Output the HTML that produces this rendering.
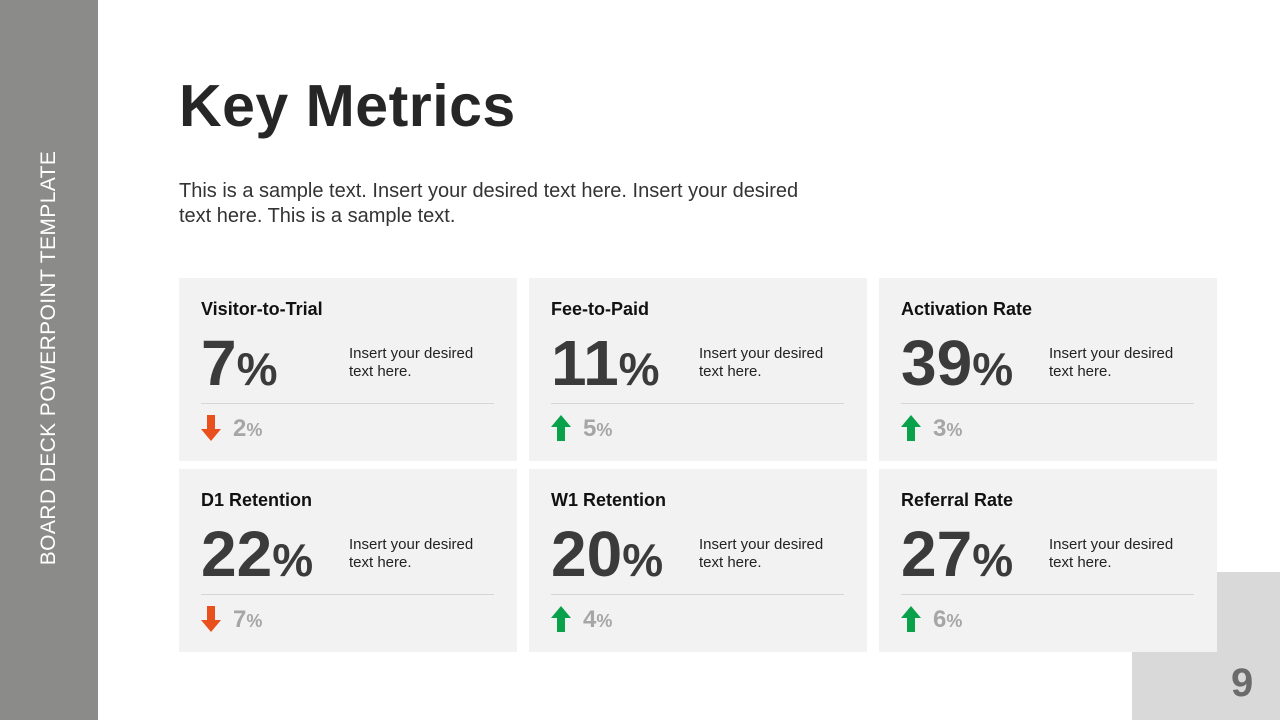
<!DOCTYPE html>
<html><head><style>
*{margin:0;padding:0;box-sizing:border-box}
body{width:1280px;height:720px;position:relative;background:#fff;font-family:"Liberation Sans",sans-serif;overflow:hidden}
.side{position:absolute;left:0;top:0;width:98px;height:720px;background:#8b8c8a}
.side span{position:absolute;left:49px;top:358px;transform:translate(-50%,-50%) rotate(-90deg);white-space:nowrap;color:#fff;font-size:21px;letter-spacing:0.4px}
h1{position:absolute;left:179px;top:72px;font-size:59px;font-weight:bold;color:#262626;letter-spacing:0.5px}
.intro{position:absolute;left:179px;top:179px;width:655px;font-size:20px;line-height:25px;color:#333}
.g1{position:absolute;left:1217px;top:572px;width:63px;height:148px;background:#d9d9d9}
.g2{position:absolute;left:1132px;top:652px;width:148px;height:68px;background:#d9d9d9}
.pg{position:absolute;left:1231px;top:661px;font-size:40px;font-weight:bold;color:#6b6b6b}
.card{position:absolute;width:338px;height:183px;background:#f2f2f2}
.t{position:absolute;left:22px;top:21px;font-size:18px;font-weight:bold;color:#111}
.n{position:absolute;left:22px;top:48px;font-size:64px;font-weight:bold;color:#3b3b3b;letter-spacing:0px}
.n small{font-size:46px}
.d{position:absolute;left:170px;top:67px;font-size:15px;line-height:18px;color:#222}
.l{position:absolute;left:22px;top:125px;width:293px;height:1px;background:#d6d6d6}
.a{position:absolute;left:22px;top:137px;width:20px;height:26px}
.c{position:absolute;left:54px;top:137px;font-size:24px;font-weight:bold;color:#a6a6a6}
.c small{font-size:18px}
</style></head><body>
<div class="side"><span>BOARD DECK POWERPOINT TEMPLATE</span></div>
<h1>Key Metrics</h1>
<div class="intro">This is a sample text. Insert your desired text here. Insert your desired text here. This is a sample text.</div>
<div class="g1"></div><div class="g2"></div>
<div class="pg">9</div>

<div class="card" style="left:179px;top:278px"><div class="t">Visitor-to-Trial</div><div class="n">7<small>%</small></div><div class="d">Insert your desired<br>text here.</div><div class="l"></div>
<svg class="a" viewBox="0 0 20 26"><polygon points="6,0 14,0 14,14 20,14 10,26 0,14 6,14" fill="#e8501e"/></svg><div class="c">2<small>%</small></div></div>

<div class="card" style="left:529px;top:278px"><div class="t">Fee-to-Paid</div><div class="n">11<small>%</small></div><div class="d">Insert your desired<br>text here.</div><div class="l"></div>
<svg class="a" viewBox="0 0 20 26"><polygon points="6,26 14,26 14,12 20,12 10,0 0,12 6,12" fill="#0aa14b"/></svg><div class="c">5<small>%</small></div></div>

<div class="card" style="left:879px;top:278px"><div class="t">Activation Rate</div><div class="n">39<small>%</small></div><div class="d">Insert your desired<br>text here.</div><div class="l"></div>
<svg class="a" viewBox="0 0 20 26"><polygon points="6,26 14,26 14,12 20,12 10,0 0,12 6,12" fill="#0aa14b"/></svg><div class="c">3<small>%</small></div></div>

<div class="card" style="left:179px;top:469px"><div class="t">D1 Retention</div><div class="n">22<small>%</small></div><div class="d">Insert your desired<br>text here.</div><div class="l"></div>
<svg class="a" viewBox="0 0 20 26"><polygon points="6,0 14,0 14,14 20,14 10,26 0,14 6,14" fill="#e8501e"/></svg><div class="c">7<small>%</small></div></div>

<div class="card" style="left:529px;top:469px"><div class="t">W1 Retention</div><div class="n">20<small>%</small></div><div class="d">Insert your desired<br>text here.</div><div class="l"></div>
<svg class="a" viewBox="0 0 20 26"><polygon points="6,26 14,26 14,12 20,12 10,0 0,12 6,12" fill="#0aa14b"/></svg><div class="c">4<small>%</small></div></div>

<div class="card" style="left:879px;top:469px"><div class="t">Referral Rate</div><div class="n">27<small>%</small></div><div class="d">Insert your desired<br>text here.</div><div class="l"></div>
<svg class="a" viewBox="0 0 20 26"><polygon points="6,26 14,26 14,12 20,12 10,0 0,12 6,12" fill="#0aa14b"/></svg><div class="c">6<small>%</small></div></div>
</body></html>
